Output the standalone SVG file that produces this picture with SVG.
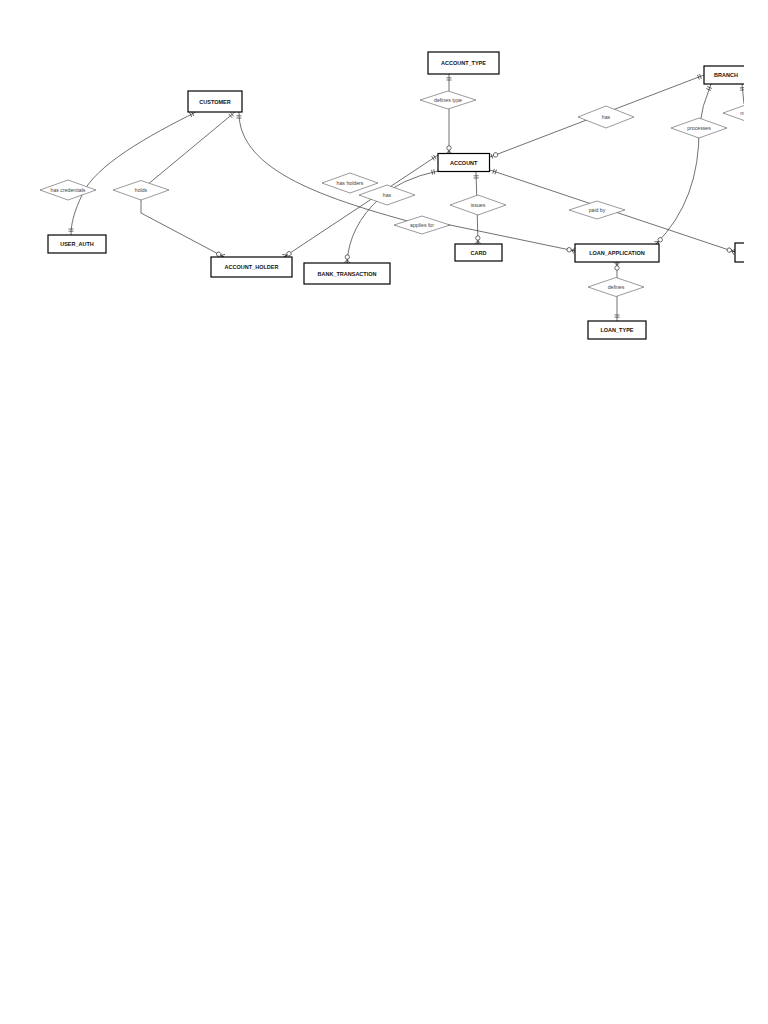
<svg xmlns="http://www.w3.org/2000/svg" width="768" height="1024" viewBox="0 0 768 1024">
<style>
.ent rect{fill:#fff;stroke:#000;stroke-width:1.2}
.ent text{font-family:"Liberation Sans",Arial,sans-serif;font-size:5.5px;font-weight:bold;fill:#111;text-anchor:middle;dominant-baseline:central}
.rel polygon{fill:#fff;stroke:#555;stroke-width:0.6}
.rel text{font-family:"Liberation Sans",Arial,sans-serif;font-size:5.2px;fill:#444;text-anchor:middle;dominant-baseline:central}
.con path{fill:none;stroke:#333;stroke-width:0.7}
.mk{fill:none;stroke:#333;stroke-width:0.7}
</style>
<defs>
<clipPath id="clip"><rect x="0" y="0" width="744" height="1024"/></clipPath>
<marker id="bar2" viewBox="0 0 12 12" markerWidth="12" markerHeight="12" refX="12" refY="6" orient="auto-start-reverse" markerUnits="userSpaceOnUse">
<path class="mk" d="M6,3.5V8.5M8.2,3.5V8.5"/>
</marker>
<marker id="zmany" viewBox="0 0 12 12" markerWidth="12" markerHeight="12" refX="12" refY="6" orient="auto-start-reverse" markerUnits="userSpaceOnUse">
<path class="mk" d="M12,3L8.5,6L12,9M8.5,6H12"/>
<circle cx="6" cy="6" r="2.2" fill="#fff" stroke="#333" stroke-width="0.7"/>
</marker>
<marker id="zone" viewBox="0 0 12 12" markerWidth="12" markerHeight="12" refX="12" refY="6" orient="auto-start-reverse" markerUnits="userSpaceOnUse">
<path class="mk" d="M10,3.5V8.5"/>
<circle cx="6" cy="6" r="2.2" fill="#fff" stroke="#333" stroke-width="0.7"/>
</marker>
</defs>
<rect width="768" height="1024" fill="#fff"/>
<g clip-path="url(#clip)">
<g id="connectors" class="con">
<path d="M196,112 C150,135 95,165 82,195 C75,210 71,222 71,235" marker-start="url(#bar2)" marker-end="url(#bar2)"/>
<path d="M235,112 L141,190" marker-start="url(#bar2)"/>
<path d="M141,190 L141,213 L224,257" marker-end="url(#zmany)"/>
<path d="M239,112 C238,172 330,200 422,225 L450,225 L575,251" marker-start="url(#bar2)" marker-end="url(#zmany)"/>
<path d="M449,74 L449,154" marker-start="url(#bar2)" marker-end="url(#zmany)"/>
<path d="M438,155 L284,257" marker-start="url(#bar2)" marker-end="url(#zmany)"/>
<path d="M438,171 Q400,179 380,198 Q349,226 347,263" marker-start="url(#bar2)" marker-end="url(#zmany)"/>
<path d="M490,157 L704,75" marker-start="url(#zone)" marker-end="url(#bar2)"/>
<path d="M476,172 L477,205 L478,244" marker-start="url(#bar2)" marker-end="url(#zmany)"/>
<path d="M490,170 L735,252" marker-start="url(#bar2)" marker-end="url(#zmany)"/>
<path d="M711,84 Q702,105 699,128 Q700,200 656,244" marker-start="url(#bar2)" marker-end="url(#zmany)"/>
<path d="M742,84 L744,104" marker-start="url(#bar2)"/>
<path d="M617,262 L617,321" marker-start="url(#zmany)" marker-end="url(#bar2)"/>
</g>
<g id="r_has_credentials" class="rel"><polygon points="40,190 68,180 96,190 68,200"/><text x="68" y="190">has credentials</text></g>
<g id="r_holds" class="rel"><polygon points="113,190 141,180.5 169,190 141,200"/><text x="141" y="190">holds</text></g>
<g id="r_defines_type" class="rel"><polygon points="420,100 448,91 476,100 448,109"/><text x="448" y="100">defines type</text></g>
<g id="r_has_holders" class="rel"><polygon points="322,183 350,173 378,183 350,193"/><text x="350" y="183">has holders</text></g>
<g id="r_has_tx" class="rel"><polygon points="359,195 387,185 415,195 387,205"/><text x="387" y="195">has</text></g>
<g id="r_applies_for" class="rel"><polygon points="394,225 422,216 450,225 422,234"/><text x="422" y="225">applies for</text></g>
<g id="r_issues" class="rel"><polygon points="450,205 478,195 506,205 478,215"/><text x="478" y="205">issues</text></g>
<g id="r_has_branch" class="rel"><polygon points="578,117 606,106 634,117 606,128"/><text x="606" y="117">has</text></g>
<g id="r_processes" class="rel"><polygon points="671,128 699,118 727,128 699,138"/><text x="699" y="128">processes</text></g>
<g id="r_manages" class="rel"><polygon points="723,113 751,103 779,113 751,123"/><text x="751" y="113">manages</text></g>
<g id="r_paid_by" class="rel"><polygon points="569,210 597,201 625,210 597,219"/><text x="597" y="210">paid by</text></g>
<g id="r_defines" class="rel"><polygon points="588,287 616,277.5 644,287 616,296.5"/><text x="616" y="287">defines</text></g>
<g id="e_account_type" class="ent"><rect x="428" y="52" width="71" height="22"/><text x="463.5" y="63">ACCOUNT_TYPE</text></g>
<g id="e_customer" class="ent"><rect x="188" y="91" width="54" height="21"/><text x="215" y="101.5">CUSTOMER</text></g>
<g id="e_branch" class="ent"><rect x="704" y="66" width="56" height="18"/><text x="726" y="75">BRANCH</text></g>
<g id="e_account" class="ent"><rect x="438" y="153.5" width="51.5" height="18"/><text x="463.7" y="162.5">ACCOUNT</text></g>
<g id="e_user_auth" class="ent"><rect x="48" y="235" width="58" height="18"/><text x="77" y="244">USER_AUTH</text></g>
<g id="e_account_holder" class="ent"><rect x="211" y="257" width="81" height="20"/><text x="251.5" y="267">ACCOUNT_HOLDER</text></g>
<g id="e_bank_transaction" class="ent"><rect x="304" y="263" width="86" height="21"/><text x="347" y="273.5">BANK_TRANSACTION</text></g>
<g id="e_card" class="ent"><rect x="455" y="244" width="47" height="17"/><text x="478.5" y="252.5">CARD</text></g>
<g id="e_loan_application" class="ent"><rect x="575" y="244" width="84" height="18"/><text x="617" y="253">LOAN_APPLICATION</text></g>
<g id="e_loan_type" class="ent"><rect x="588" y="321" width="58" height="18"/><text x="617" y="330">LOAN_TYPE</text></g>
<g id="e_right" class="ent"><rect x="735" y="243" width="60" height="19"/></g>
</g>
</svg>
